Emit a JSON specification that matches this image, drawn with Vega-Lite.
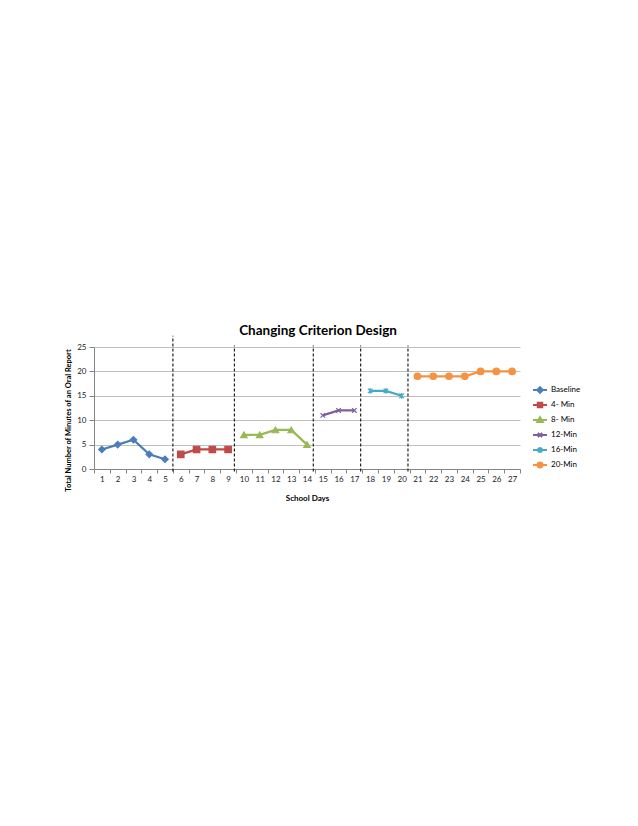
{
  "$schema": "https://vega.github.io/schema/vega-lite/v6.json",
  "width": 426,
  "height": 122,
  "autosize": {"type": "none"},
  "padding": {"left": 94, "top": 347, "right": 118, "bottom": 357},
  "background": "white",
  "title": {
    "text": "Changing Criterion Design",
    "font": "Lato",
    "fontSize": 13.5,
    "fontWeight": "bold",
    "color": "#000000",
    "anchor": "middle",
    "frame": "group",
    "dx": 11,
    "dy": 10,
    "offset": 8
  },
  "config": {
    "view": {"stroke": null},
    "axis": {"labelFont": "Lato", "titleFont": "Lato", "labelColor": "#222222", "titleColor": "#000000"}
  },
  "datasets": {
    "scores": [
      {"day": 1, "minutes": 4, "phase": "Baseline"},
      {"day": 2, "minutes": 5, "phase": "Baseline"},
      {"day": 3, "minutes": 6, "phase": "Baseline"},
      {"day": 4, "minutes": 3, "phase": "Baseline"},
      {"day": 5, "minutes": 2, "phase": "Baseline"},
      {"day": 6, "minutes": 3, "phase": "4- Min"},
      {"day": 7, "minutes": 4, "phase": "4- Min"},
      {"day": 8, "minutes": 4, "phase": "4- Min"},
      {"day": 9, "minutes": 4, "phase": "4- Min"},
      {"day": 10, "minutes": 7, "phase": "8- Min"},
      {"day": 11, "minutes": 7, "phase": "8- Min"},
      {"day": 12, "minutes": 8, "phase": "8- Min"},
      {"day": 13, "minutes": 8, "phase": "8- Min"},
      {"day": 14, "minutes": 5, "phase": "8- Min"},
      {"day": 15, "minutes": 11, "phase": "12-Min"},
      {"day": 16, "minutes": 12, "phase": "12-Min"},
      {"day": 17, "minutes": 12, "phase": "12-Min"},
      {"day": 18, "minutes": 16, "phase": "16-Min"},
      {"day": 19, "minutes": 16, "phase": "16-Min"},
      {"day": 20, "minutes": 15, "phase": "16-Min"},
      {"day": 21, "minutes": 19, "phase": "20-Min"},
      {"day": 22, "minutes": 19, "phase": "20-Min"},
      {"day": 23, "minutes": 19, "phase": "20-Min"},
      {"day": 24, "minutes": 19, "phase": "20-Min"},
      {"day": 25, "minutes": 20, "phase": "20-Min"},
      {"day": 26, "minutes": 20, "phase": "20-Min"},
      {"day": 27, "minutes": 20, "phase": "20-Min"}
    ],
    "changes": [
      {"day": 5.5, "minutes": -0.5, "top": 27.3},
      {"day": 9.4, "minutes": -0.5, "top": 25.3},
      {"day": 14.4, "minutes": -0.5, "top": 25.3},
      {"day": 17.4, "minutes": -0.5, "top": 25.3},
      {"day": 20.4, "minutes": -0.5, "top": 25.3}
    ]
  },
  "encoding": {
    "x": {
      "field": "day",
      "type": "quantitative",
      "scale": {"domain": [0.5, 27.5], "nice": false, "zero": false},
      "axis": {
        "title": "School Days",
        "titleFontSize": 8,
        "titleFontWeight": "bold",
        "titleX": 213,
        "titleY": 29,
        "titleBaseline": "middle",
        "titleAlign": "center",
        "values": [0.5, 1, 1.5, 2, 2.5, 3, 3.5, 4, 4.5, 5, 5.5, 6, 6.5, 7, 7.5, 8, 8.5, 9, 9.5, 10, 10.5, 11, 11.5, 12, 12.5, 13, 13.5, 14, 14.5, 15, 15.5, 16, 16.5, 17, 17.5, 18, 18.5, 19, 19.5, 20, 20.5, 21, 21.5, 22, 22.5, 23, 23.5, 24, 24.5, 25, 25.5, 26, 26.5, 27, 27.5],
        "labelExpr": "datum.value % 1 == 0 ? format(datum.value, 'd') : ''",
        "labelOverlap": false,
        "labelFontSize": 8,
        "labelPadding": 2,
        "tickSize": 4,
        "tickOpacity": {"condition": {"test": "datum.value % 1 == 0", "value": 0}, "value": 1},
        "tickColor": "#868686",
        "domainColor": "#868686",
        "grid": false
      }
    },
    "y": {
      "field": "minutes",
      "type": "quantitative",
      "scale": {"domain": [0, 25], "nice": false},
      "axis": {
        "title": "Total Number of Minutes of an Oral Report",
        "titleFontSize": 7.5,
        "titleFontWeight": "bold",
        "titleX": -26,
        "titleY": 73,
        "titleAngle": -90,
        "titleBaseline": "middle",
        "titleAlign": "center",
        "values": [0, 5, 10, 15, 20, 25],
        "labelFontSize": 8,
        "labelPadding": 3,
        "tickSize": 5,
        "tickColor": "#868686",
        "domainColor": "#868686",
        "grid": true,
        "gridColor": "#BFBFBF"
      }
    }
  },
  "layer": [
    {
      "data": {"name": "changes"},
      "mark": {"type": "rule", "strokeDash": [3, 2], "color": "#222222", "strokeWidth": 1.2},
      "encoding": {"y2": {"field": "top"}}
    },
    {
      "data": {"name": "scores"},
      "mark": {"type": "line", "strokeWidth": 2.25},
      "encoding": {
        "color": {
          "field": "phase",
          "type": "nominal",
          "scale": {"domain": ["Baseline", "4- Min", "8- Min", "12-Min", "16-Min", "20-Min"], "range": ["#4A7EBB", "#BE4B48", "#98B954", "#7D60A0", "#46AAC5", "#F69240"]},
          "legend": null
        }
      }
    },
    {
      "data": {"name": "scores"},
      "mark": {"type": "point", "filled": true, "opacity": 1, "size": 42, "strokeWidth": 1.2},
      "encoding": {
        "fill": {
          "field": "phase",
          "type": "nominal",
          "scale": {"domain": ["Baseline", "4- Min", "8- Min", "12-Min", "16-Min", "20-Min"], "range": ["#4A7EBB", "#BE4B48", "#98B954", "#7D60A0", "#46AAC5", "#F69240"]},
          "legend": null
        },
        "stroke": {
          "field": "phase",
          "type": "nominal",
          "scale": {"domain": ["Baseline", "4- Min", "8- Min", "12-Min", "16-Min", "20-Min"], "range": ["#4A7EBB", "#BE4B48", "#98B954", "#7D60A0", "#46AAC5", "#F69240"]},
          "legend": null
        },
        "shape": {
          "field": "phase",
          "type": "nominal",
          "scale": {"domain": ["Baseline", "4- Min", "8- Min", "12-Min", "16-Min", "20-Min"], "range": ["diamond", "square", "triangle-up", "M-0.7,-0.7L0.7,0.7M-0.7,0.7L0.7,-0.7", "M-0.7,-0.7L0.7,0.7M-0.7,0.7L0.7,-0.7M0,-0.9L0,0.9", "circle"]},
          "legend": null
        }
      }
    },
    {
      "data": {"name": "scores"},
      "transform": [{"filter": "false"}],
      "mark": {"type": "point", "filled": true, "opacity": 1, "size": 196},
      "encoding": {
        "fill": {
          "field": "phase",
          "type": "nominal",
          "scale": {"domain": ["Baseline", "4- Min", "8- Min", "12-Min", "16-Min", "20-Min"], "range": ["#4A7EBB", "#BE4B48", "#98B954", "#7D60A0", "#46AAC5", "#F69240"]},
          "legend": {"orient": "none", "legendX": 438, "legendY": 35, "title": null, "padding": 0, "labelFont": "Lato", "labelFontSize": 8, "labelColor": "#000000", "labelOffset": 3, "symbolStrokeWidth": 2, "symbolSize": 196, "rowPadding": -1.3, "symbolOpacity": 1}
        },
        "stroke": {
          "field": "phase",
          "type": "nominal",
          "scale": {"domain": ["Baseline", "4- Min", "8- Min", "12-Min", "16-Min", "20-Min"], "range": ["#4A7EBB", "#BE4B48", "#98B954", "#7D60A0", "#46AAC5", "#F69240"]},
          "legend": {"orient": "none", "legendX": 438, "legendY": 35, "title": null, "padding": 0, "labelFont": "Lato", "labelFontSize": 8, "labelColor": "#000000", "labelOffset": 3, "symbolStrokeWidth": 2, "symbolSize": 196, "rowPadding": -1.3, "symbolOpacity": 1}
        },
        "shape": {
          "field": "phase",
          "type": "nominal",
          "scale": {"domain": ["Baseline", "4- Min", "8- Min", "12-Min", "16-Min", "20-Min"], "range": [
            "M-1,0H1M0,-0.4L0.4,0L0,0.4L-0.4,0Z",
            "M-1,0H1M-0.32,-0.32H0.32V0.32H-0.32Z",
            "M-1,0H1M0,-0.4L0.4,0.3H-0.4Z",
            "M-1,0H1M-0.3,-0.3L0.3,0.3M-0.3,0.3L0.3,-0.3",
            "M-1,0H1M-0.3,-0.3L0.3,0.3M-0.3,0.3L0.3,-0.3M0,-0.4V0.4",
            "M-1,0H1M0.35,0A0.35,0.35,0,1,1,-0.35,0A0.35,0.35,0,1,1,0.35,0Z"
          ]},
          "legend": {"orient": "none", "legendX": 438, "legendY": 35, "title": null, "padding": 0, "labelFont": "Lato", "labelFontSize": 8, "labelColor": "#000000", "labelOffset": 3, "symbolStrokeWidth": 2, "symbolSize": 196, "rowPadding": -1.3, "symbolOpacity": 1}
        }
      }
    }
  ],
  "resolve": {"scale": {"color": "independent", "fill": "independent", "stroke": "independent", "shape": "independent"}}
}
